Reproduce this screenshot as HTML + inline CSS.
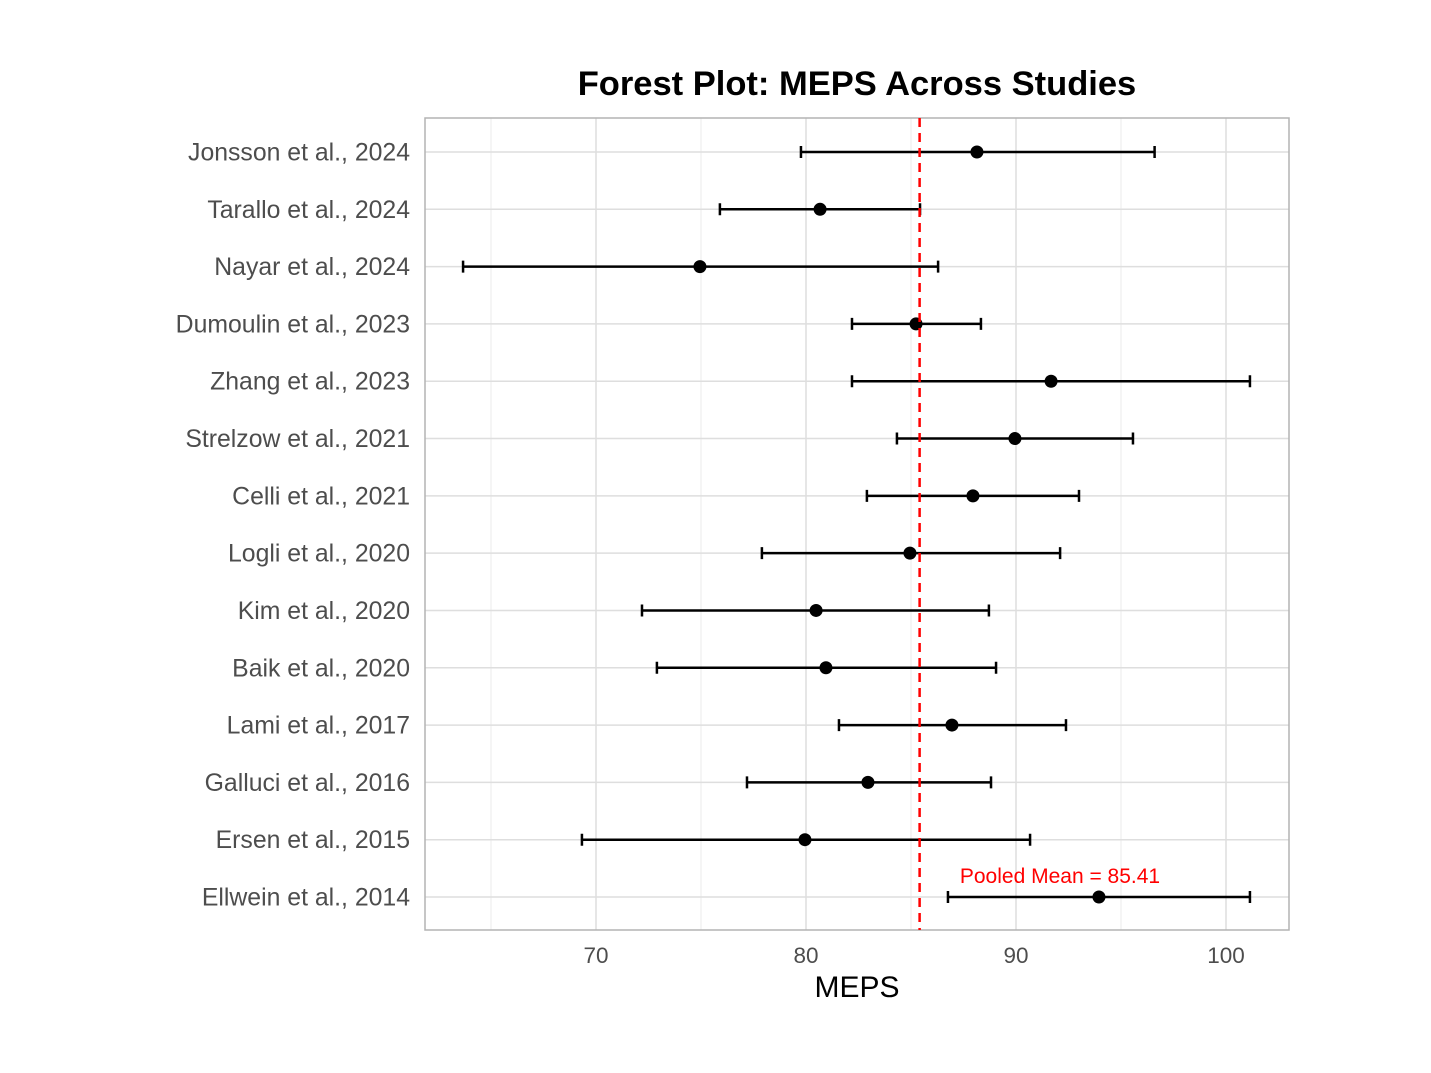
<!DOCTYPE html>
<html><head><meta charset="utf-8"><style>
body{margin:0;background:#fff}
svg{display:block;font-family:"Liberation Sans",Arial,sans-serif}
</style></head><body>
<svg id="chart" width="1431" height="1073">
<rect width="1431" height="1073" fill="#fff"/>
<text x="857" y="95" font-size="34.5" font-weight="bold" text-anchor="middle" fill="#000">Forest Plot: MEPS Across Studies</text>
<g id="grid"></g><g id="marks"></g>
<text x="857" y="997" font-size="30" text-anchor="middle" fill="#000">MEPS</text>
</svg>
<script>
const studies=["Jonsson et al., 2024","Tarallo et al., 2024","Nayar et al., 2024","Dumoulin et al., 2023","Zhang et al., 2023","Strelzow et al., 2021","Celli et al., 2021","Logli et al., 2020","Kim et al., 2020","Baik et al., 2020","Lami et al., 2017","Galluci et al., 2016","Ersen et al., 2015","Ellwein et al., 2014"];
const means=[88.14,80.67,74.95,85.24,91.67,89.95,87.95,84.95,80.48,80.95,86.95,82.95,79.95,93.95];
const lower=[79.76,75.9,63.67,82.19,82.19,84.33,82.9,77.9,72.19,72.9,81.57,77.19,69.33,86.76];
const upper=[96.6,85.43,86.29,88.33,101.14,95.57,93,92.1,88.71,89.05,92.38,88.81,90.67,101.14];
const xTicks=[70,80,90,100];
const xMinor=[65,75,85,95];
const pooled=85.41;
const NS="http://www.w3.org/2000/svg";
const L=425,R=1289,T=118,B=930;
const x=v=>596+(v-70)*21;
const y=i=>152+i*(897-152)/13;
function el(tag,attrs,parent,text){const e=document.createElementNS(NS,tag);for(const k in attrs)e.setAttribute(k,attrs[k]);if(text!==undefined)e.textContent=text;parent.appendChild(e);return e;}
const g=document.getElementById('grid'),m=document.getElementById('marks');
xMinor.forEach(v=>{const l=el('line',{x1:x(v),x2:x(v),y1:T,y2:B,stroke:'#ebebeb','stroke-width':1},g);

});
xTicks.forEach(v=>{const l=el('line',{x1:x(v),x2:x(v),y1:T,y2:B,stroke:'#dedede','stroke-width':1.5},g);


const t=el('text',{x:x(v),y:963,'font-size':22.5,'text-anchor':'middle',fill:'#4d4d4d'},g,String(v));

});
studies.forEach((s,i)=>{const l=el('line',{x1:L,x2:R,y1:y(i),y2:y(i),stroke:'#dedede','stroke-width':1.5},g);


const t=el('text',{x:410,y:y(i)+8.5,'font-size':24.8,'text-anchor':'end',fill:'#4d4d4d'},g,s);

});
const fr=el('rect',{x:L,y:T,width:R-L,height:B-T,fill:'none',stroke:'#b3b3b3','stroke-width':1.5},g);


studies.forEach((s,i)=>{const gy=y(i);
const ci=el('path',{d:`M${x(lower[i])},${gy}H${x(upper[i])}M${x(lower[i])},${gy-6}V${gy+6}M${x(upper[i])},${gy-6}V${gy+6}`,stroke:'#000','stroke-width':2.5,fill:'none'},m);


const p=el('circle',{cx:x(means[i]),cy:gy,r:6.5,fill:'#000'},m);

});
const pl=el('line',{x1:x(pooled),x2:x(pooled),y1:T,y2:B,stroke:'#ff0000','stroke-width':2.5,'stroke-dasharray':'9,6'},m);


const pt=el('text',{x:1060,y:883,'font-size':21,'text-anchor':'middle',fill:'#ff0000'},m,'Pooled Mean = '+pooled.toFixed(2));


</script>
</body></html>
